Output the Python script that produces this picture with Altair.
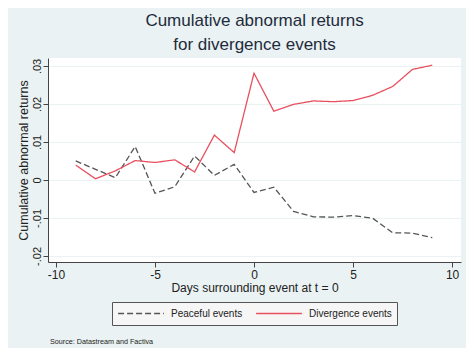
import altair as alt
import pandas as pd

days = [-9, -8, -7, -6, -5, -4, -3, -2, -1, 0, 1, 2, 3, 4, 5, 6, 7, 8, 9]
peaceful = [0.0050, 0.0028, 0.0006, 0.0088, -0.0035, -0.0018, 0.0063, 0.0012, 0.0041,
            -0.0033, -0.0019, -0.0083, -0.0097, -0.0098, -0.0094, -0.0101, -0.0139, -0.0140, -0.0152]
divergence = [0.0039, 0.0003, 0.0024, 0.0051, 0.0046, 0.0053, 0.0021, 0.0118, 0.0072,
              0.0281, 0.0181, 0.0199, 0.0208, 0.0206, 0.0209, 0.0223, 0.0246, 0.0291, 0.0302]
series_names = ["Peaceful events", "Divergence events"]
x_ticks = [-10, -5, 0, 5, 10]
y_ticks = [-0.02, -0.01, 0, 0.01, 0.02, 0.03]

rows = []
for d, p, v in zip(days, peaceful, divergence):
    rows.append({"day": d, "car": p, "series": series_names[0]})
    rows.append({"day": d, "car": v, "series": series_names[1]})
df = pd.DataFrame(rows)

legend_kw = dict(title=None, orient="none", legendX=64, legendY=244,
                 direction="horizontal", symbolType="stroke",
                 symbolSize=2100, symbolStrokeWidth=1.3, clipHeight=13,
                 labelFontSize=10, labelColor="#222222",
                 columnPadding=12, labelOffset=6,
                 padding=5, strokeColor="#555555", fillColor="#f6f6f6")

lines = alt.Chart(df).mark_line(strokeWidth=1.3).encode(
    x=alt.X("day:Q", scale=alt.Scale(domain=[-10.4, 10.45], nice=False, zero=False),
            axis=alt.Axis(values=x_ticks, title="Days surrounding event at t = 0",
                          grid=False, labelExpr="datum.value + ''")),
    y=alt.Y("car:Q", scale=alt.Scale(domain=[-0.0216, 0.0321], nice=False, zero=False),
            axis=alt.Axis(values=y_ticks, title="Cumulative abnormal returns",
                          labelAngle=270, labelAlign="center", labelBaseline="bottom",
                          labelExpr="datum.value == 0 ? '0' : (datum.value < 0 ? '-' : '') + replace(format(abs(datum.value), '.2f'), '0.', '.')")),
    color=alt.Color("series:N", scale=alt.Scale(domain=series_names, range=["#555555", "#e8505f"]),
                    legend=alt.Legend(**legend_kw)),
    strokeDash=alt.StrokeDash("series:N", scale=alt.Scale(domain=series_names, range=[[6, 3], [1, 0]]),
                              legend=alt.Legend(**legend_kw)),
)

source = alt.Chart(pd.DataFrame({"t": ["Source: Datastream and Factiva"]})).mark_text(
    align="left", baseline="middle", fontSize=7.2, color="#222222", font="Liberation Sans"
).encode(x=alt.value(2), y=alt.value(284), text="t:N")

chart = alt.layer(lines, source).properties(
    width=413, height=204,
    autosize=alt.AutoSizeParams(type="none"),
    padding={"left": 40, "top": 50, "right": 5, "bottom": 86},
    background="#eaf2f3",
    title=alt.TitleParams(["Cumulative abnormal returns", "for divergence events"],
                          fontSize=17, fontWeight="normal", color="#1e2b3c",
                          font="Liberation Sans", lineHeight=24, offset=4, anchor="middle"),
).configure_view(fill="white", stroke=None).configure_axis(
    labelFont="Liberation Sans", titleFont="Liberation Sans",
    labelFontSize=12, titleFontSize=12, titleFontWeight="normal",
    labelColor="#222222", titleColor="#222222",
    domainColor="#444444", tickColor="#444444", tickSize=5,
    gridColor="#eaf2f3", gridWidth=1,
).configure_axisY(titlePadding=1, labelPadding=1, labelFontSize=11, titleFontSize=12.5).configure_axisX(titlePadding=2, labelPadding=2).configure_legend(
    labelFont="Liberation Sans"
)

chart.save("out.html", embed_options={"renderer": "svg", "actions": False})
